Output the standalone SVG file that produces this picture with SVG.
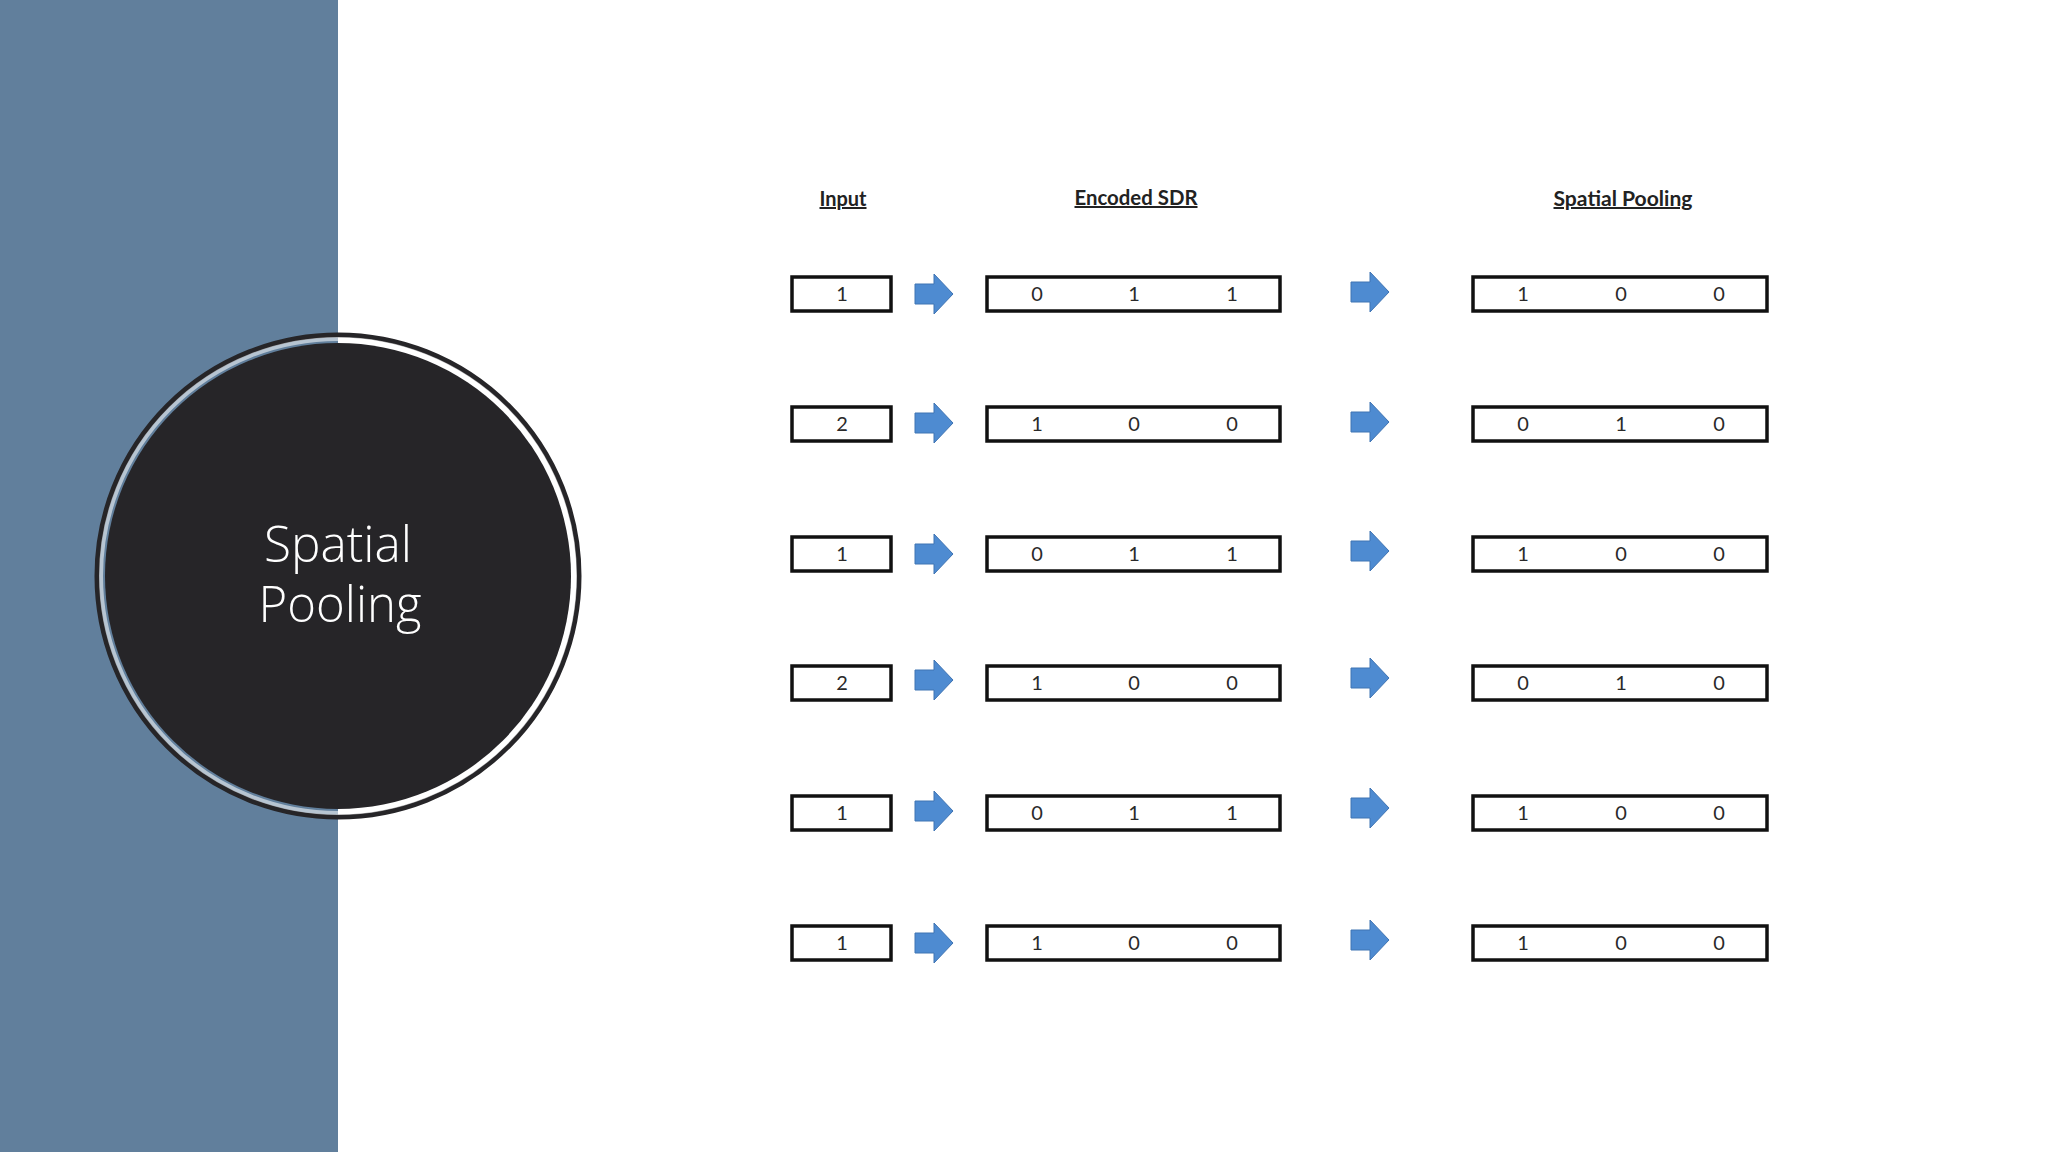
<svg xmlns="http://www.w3.org/2000/svg" width="2048" height="1152" viewBox="0 0 2048 1152">
<defs>
<style>
.box{fill:#ffffff;stroke:#111111;stroke-width:3.5}
.dig{font-family:Lato,"Liberation Sans",sans-serif;font-size:20px;fill:#2a2a2a;text-anchor:middle}
.hdr{font-family:Lato,"Liberation Sans",sans-serif;font-size:20px;font-weight:bold;fill:#222222;text-anchor:middle;text-decoration:underline}
.arr{fill:#4e8bd1;stroke:#3f74b3;stroke-width:1}
.title{font-family:"Open Sans","Liberation Sans",sans-serif;font-weight:300;font-size:50px;fill:#ffffff;text-anchor:middle}
</style>
<path id="arrow" d="M0,-10 L19,-10 L19,-20 L38,0 L19,20 L19,10 L0,10 Z"/>
</defs>
<rect x="0" y="0" width="2048" height="1152" fill="#ffffff"/>
<rect id="side-panel" x="0" y="0" width="338" height="1152" fill="#617f9c"/>
<g id="title-circle">
<circle cx="338" cy="576" r="241" fill="none" stroke="#262528" stroke-width="5"/>
<circle cx="338" cy="576" r="237" fill="none" stroke="#ffffff" stroke-opacity="0.55" stroke-width="4"/>
<circle cx="338" cy="576" r="233" fill="#262528"/>
<text class="title" x="338" y="562" textLength="148" lengthAdjust="spacingAndGlyphs">Spatial</text>
<text class="title" x="340" y="622" textLength="163" lengthAdjust="spacingAndGlyphs">Pooling</text>
</g>
<g id="headers">
<text id="hdr-input" class="hdr" x="843" y="206" textLength="47" lengthAdjust="spacingAndGlyphs">Input</text>
<text id="hdr-encoded" class="hdr" x="1136" y="205" textLength="123" lengthAdjust="spacingAndGlyphs">Encoded SDR</text>
<text id="hdr-spatial" class="hdr" x="1623" y="206" textLength="139" lengthAdjust="spacingAndGlyphs">Spatial Pooling</text>
</g>
<g id="row1">
<g id="in1"><rect class="box" x="792" y="277" width="99" height="34"/><text class="dig" x="842" y="301">1</text></g>
<g id="enc1"><rect class="box" x="987" y="277" width="293" height="34"/><text class="dig" x="1037" y="301">0</text><text class="dig" x="1134" y="301">1</text><text class="dig" x="1232" y="301">1</text></g>
<g id="sp1"><rect class="box" x="1473" y="277" width="294" height="34"/><text class="dig" x="1523" y="301">1</text><text class="dig" x="1621" y="301">0</text><text class="dig" x="1719" y="301">0</text></g>
</g>
<g id="row2">
<g id="in2"><rect class="box" x="792" y="407" width="99" height="34"/><text class="dig" x="842" y="431">2</text></g>
<g id="enc2"><rect class="box" x="987" y="407" width="293" height="34"/><text class="dig" x="1037" y="431">1</text><text class="dig" x="1134" y="431">0</text><text class="dig" x="1232" y="431">0</text></g>
<g id="sp2"><rect class="box" x="1473" y="407" width="294" height="34"/><text class="dig" x="1523" y="431">0</text><text class="dig" x="1621" y="431">1</text><text class="dig" x="1719" y="431">0</text></g>
</g>
<g id="row3">
<g id="in3"><rect class="box" x="792" y="537" width="99" height="34"/><text class="dig" x="842" y="561">1</text></g>
<g id="enc3"><rect class="box" x="987" y="537" width="293" height="34"/><text class="dig" x="1037" y="561">0</text><text class="dig" x="1134" y="561">1</text><text class="dig" x="1232" y="561">1</text></g>
<g id="sp3"><rect class="box" x="1473" y="537" width="294" height="34"/><text class="dig" x="1523" y="561">1</text><text class="dig" x="1621" y="561">0</text><text class="dig" x="1719" y="561">0</text></g>
</g>
<g id="row4">
<g id="in4"><rect class="box" x="792" y="666" width="99" height="34"/><text class="dig" x="842" y="690">2</text></g>
<g id="enc4"><rect class="box" x="987" y="666" width="293" height="34"/><text class="dig" x="1037" y="690">1</text><text class="dig" x="1134" y="690">0</text><text class="dig" x="1232" y="690">0</text></g>
<g id="sp4"><rect class="box" x="1473" y="666" width="294" height="34"/><text class="dig" x="1523" y="690">0</text><text class="dig" x="1621" y="690">1</text><text class="dig" x="1719" y="690">0</text></g>
</g>
<g id="row5">
<g id="in5"><rect class="box" x="792" y="796" width="99" height="34"/><text class="dig" x="842" y="820">1</text></g>
<g id="enc5"><rect class="box" x="987" y="796" width="293" height="34"/><text class="dig" x="1037" y="820">0</text><text class="dig" x="1134" y="820">1</text><text class="dig" x="1232" y="820">1</text></g>
<g id="sp5"><rect class="box" x="1473" y="796" width="294" height="34"/><text class="dig" x="1523" y="820">1</text><text class="dig" x="1621" y="820">0</text><text class="dig" x="1719" y="820">0</text></g>
</g>
<g id="row6">
<g id="in6"><rect class="box" x="792" y="926" width="99" height="34"/><text class="dig" x="842" y="950">1</text></g>
<g id="enc6"><rect class="box" x="987" y="926" width="293" height="34"/><text class="dig" x="1037" y="950">1</text><text class="dig" x="1134" y="950">0</text><text class="dig" x="1232" y="950">0</text></g>
<g id="sp6"><rect class="box" x="1473" y="926" width="294" height="34"/><text class="dig" x="1523" y="950">1</text><text class="dig" x="1621" y="950">0</text><text class="dig" x="1719" y="950">0</text></g>
</g>
<g id="connectors">
<use href="#arrow" class="arr" x="915" y="294"/>
<use href="#arrow" class="arr" x="915" y="423"/>
<use href="#arrow" class="arr" x="915" y="554"/>
<use href="#arrow" class="arr" x="915" y="680"/>
<use href="#arrow" class="arr" x="915" y="811"/>
<use href="#arrow" class="arr" x="915" y="943"/>
<use href="#arrow" class="arr" x="1351" y="292"/>
<use href="#arrow" class="arr" x="1351" y="422"/>
<use href="#arrow" class="arr" x="1351" y="551"/>
<use href="#arrow" class="arr" x="1351" y="678"/>
<use href="#arrow" class="arr" x="1351" y="808"/>
<use href="#arrow" class="arr" x="1351" y="940"/>
</g>
</svg>
